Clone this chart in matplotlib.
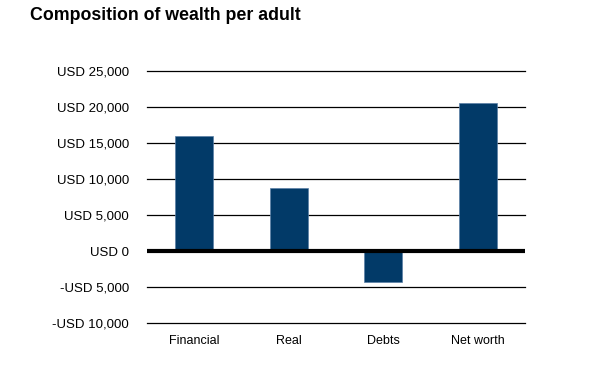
import matplotlib
matplotlib.use("Agg")
import matplotlib.pyplot as plt
import matplotlib.ticker as mticker

plt.rcParams["font.family"] = ["Liberation Sans", "DejaVu Sans"]

CATEGORIES = ["Financial", "Real", "Debts", "Net worth"]
VALUES = [16000, 8700, -4300, 20500]
YTICKS = [-10000, -5000, 0, 5000, 10000, 15000, 20000, 25000]

BAR = "#023a68"


def usd(v, _pos=None):
    s = f"USD {abs(v):,.0f}"
    return "-" + s if v < 0 else s


fig = plt.figure(figsize=(5.97, 3.70), dpi=100)
ax = fig.add_axes([147 / 597, 1 - 323 / 370, 378 / 597, 252 / 370])

ax.set_axisbelow(True)
for y in YTICKS:
    if y != 0:
        ax.axhline(y, color="black", linewidth=0.9, zorder=1, clip_on=False)

x = range(len(CATEGORIES))
ax.bar(x, VALUES, width=0.4, color=BAR, edgecolor="#5a7fa6", linewidth=0.5, zorder=2)
ax.axhline(0, color="black", linewidth=3, zorder=3)

ax.set_xlim(-0.5, len(CATEGORIES) - 0.5)
ax.set_ylim(-10000, 25000)
ax.set_yticks(YTICKS)
ax.yaxis.set_major_formatter(mticker.FuncFormatter(usd))
ax.set_xticks(list(x))
ax.set_xticklabels(CATEGORIES)
ax.tick_params(axis="y", length=0, pad=13, labelsize=9.5)
ax.tick_params(axis="x", length=0, pad=9, labelsize=9)
for s in ax.spines.values():
    s.set_visible(False)

fig.text(30 / 597, 1 - 16 / 370, "Composition of wealth per adult",
         fontsize=12.8, fontweight="bold", ha="left", va="center")

fig.savefig("out.png", dpi=100, facecolor="white")
